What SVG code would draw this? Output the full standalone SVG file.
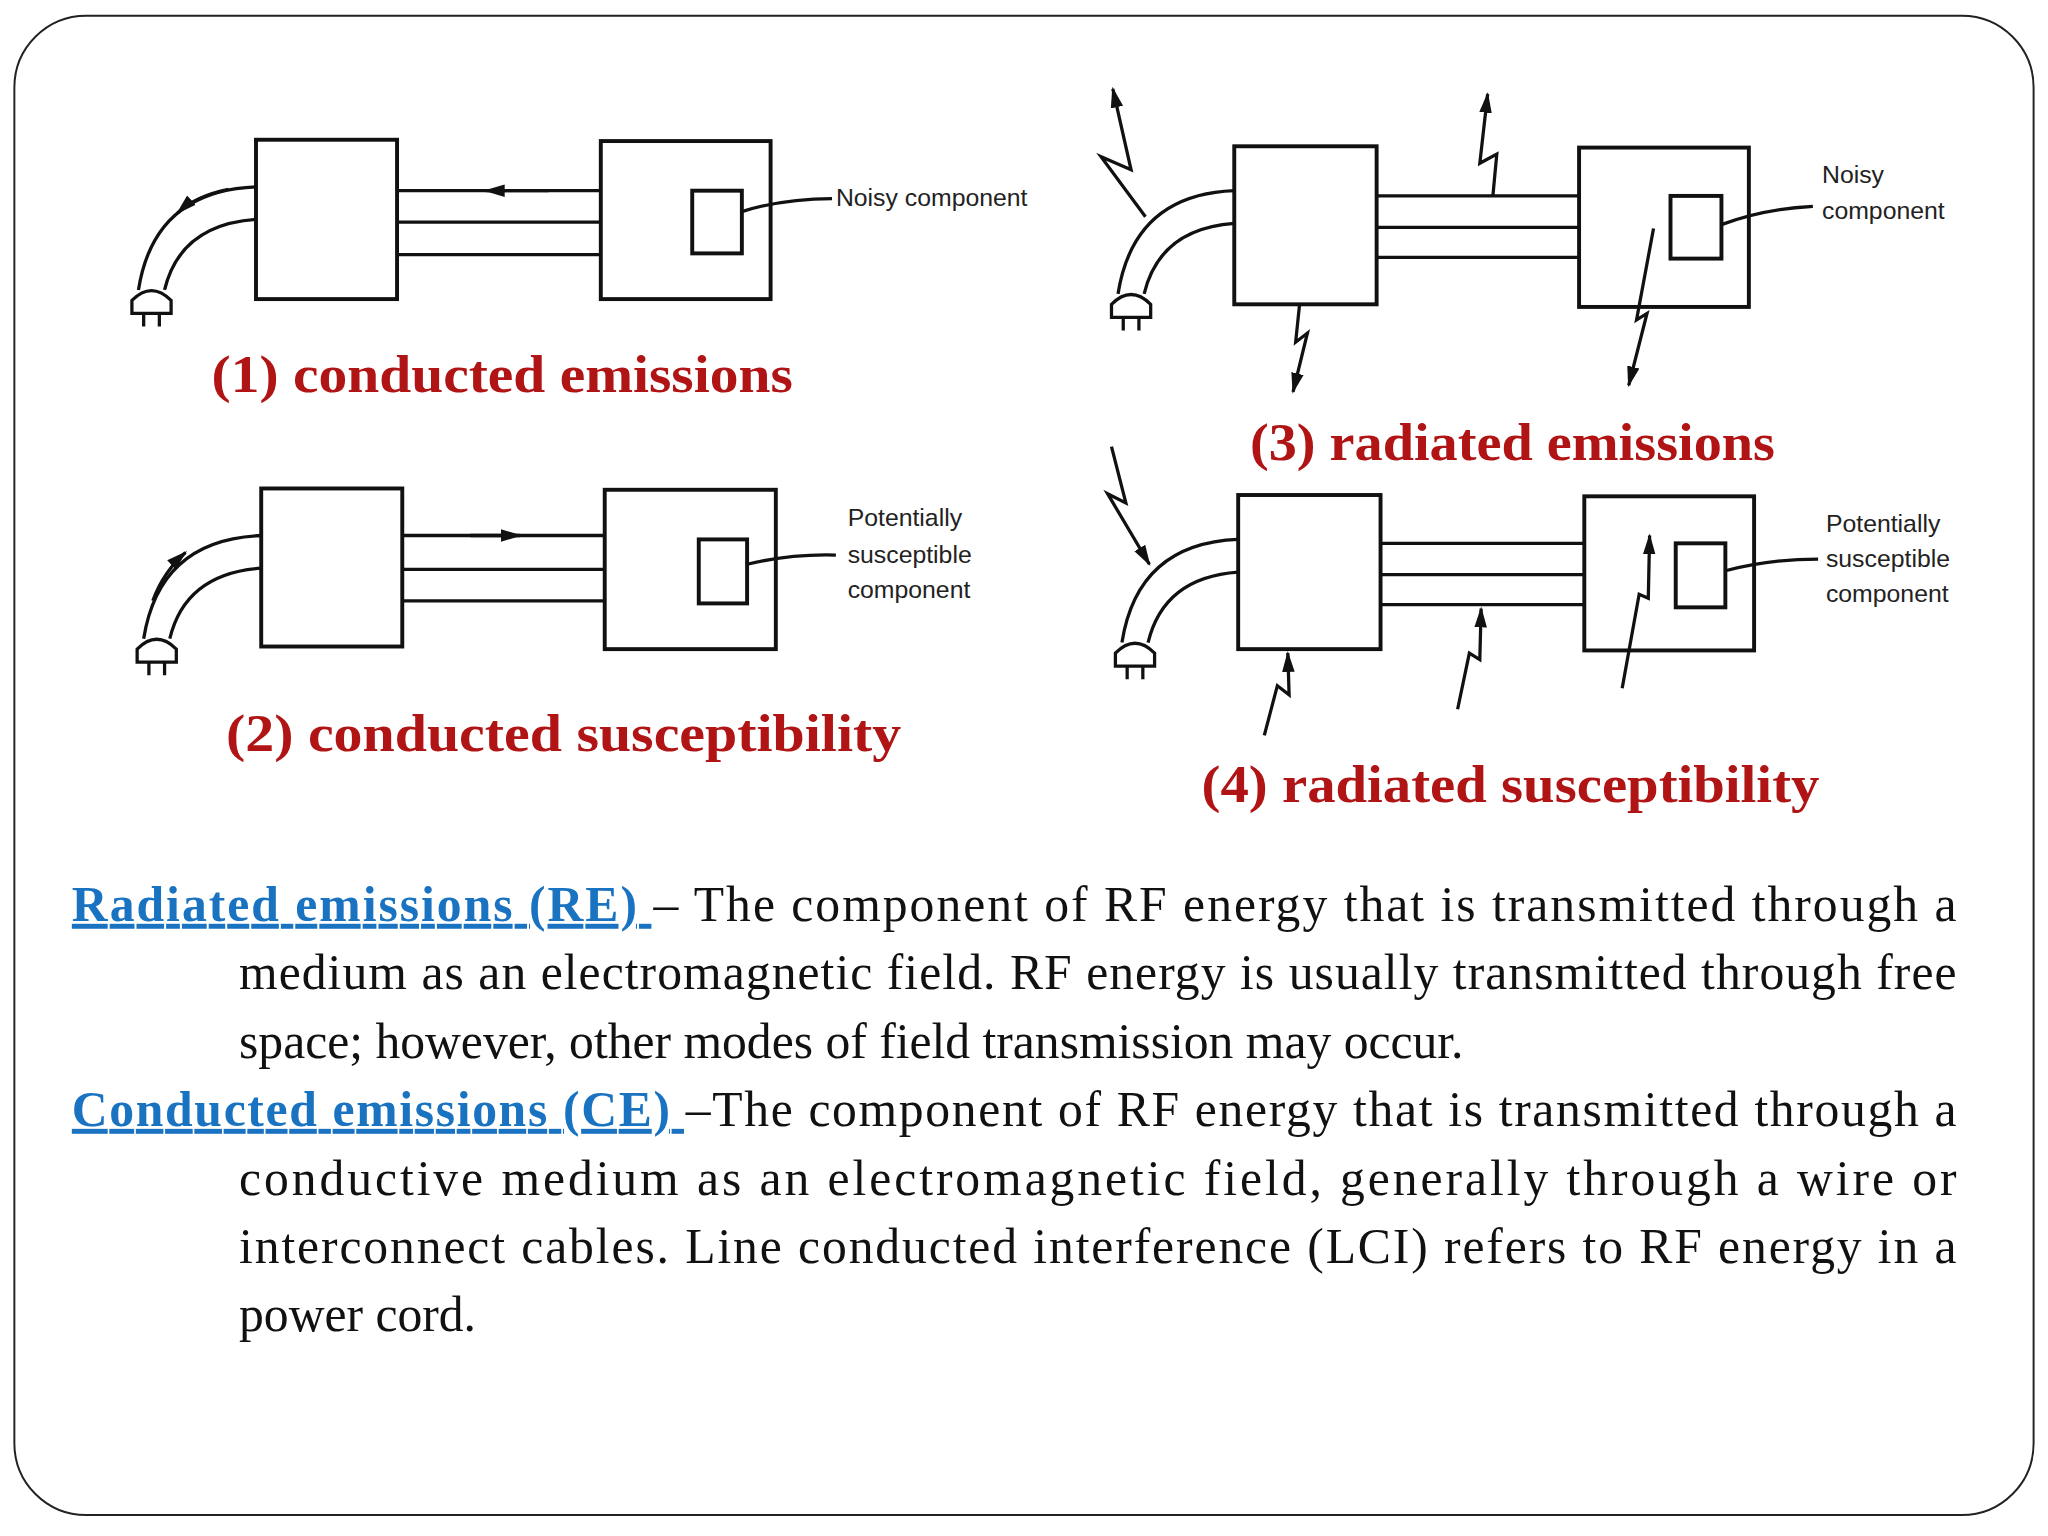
<svg xmlns="http://www.w3.org/2000/svg" width="2048" height="1536" viewBox="0 0 2048 1536">
<defs>
<marker id="ab" viewBox="0 0 10 10" refX="9" refY="5" markerWidth="16" markerHeight="16" orient="auto" markerUnits="userSpaceOnUse"><path d="M0,2 L10,5 L0,8 Z" fill="#111"/></marker>
<style>
.bx{fill:#fff;stroke:#111;stroke-width:3}
.w{fill:none;stroke:#111;stroke-width:2.5}
.bolt{fill:none;stroke:#111;stroke-width:2.5;stroke-linejoin:miter}
.lbl{font-family:"Liberation Sans",Arial,sans-serif;font-size:19px;fill:#222}
.ttl{font-family:"Liberation Serif","Times New Roman",serif;font-weight:bold;font-size:40px;fill:#b01414}
.body{font-family:"Liberation Serif","Times New Roman",serif;font-size:38px;fill:#111}
.lk{fill:#1a73c0;font-weight:bold;text-decoration:underline}
</style>
</defs>
<rect width="2048" height="1536" fill="#fff"/>
<g transform="scale(1.3061)">
<rect x="11" y="12" width="1546" height="1148" rx="55" fill="#fff" stroke="#222" stroke-width="1.5"/>

<g id="panel1">
<path class="w" d="M196,143 Q118,146 106,222"/><path class="w" d="M196,168 Q138,172 126,222"/>
<path class="w" d="M175,145 Q150,150 136,163" marker-end="url(#ab)"/>
<path class="w" d="M101,240 L101,230 Q116,215 131,230 L131,240 Z"/><path class="w" d="M110,240 V250 M122,240 V250"/>
<path class="w" d="M304,146 H460 M304,170 H460 M304,195 H460"/>
<path class="w" d="M420,146 H372" marker-end="url(#ab)"/>
<rect class="bx" x="196" y="107" width="108" height="122"/>
<rect class="bx" x="460" y="108" width="130" height="121"/>
<rect class="bx" x="530" y="146" width="38" height="48"/>
<path class="w" d="M568,162 Q600,152 637,152" stroke-width="1.5"/>
<text class="lbl" x="640" y="158">Noisy component</text>
<text class="ttl" x="162" y="300" textLength="445" lengthAdjust="spacingAndGlyphs">(1) conducted emissions</text>
</g>

<g id="panel2">
<path class="w" d="M200,410 Q122,413 110,489"/><path class="w" d="M200,435 Q142,439 130,489"/>
<path class="w" d="M117,460 Q125,438 142,423" marker-end="url(#ab)"/>
<path class="w" d="M105,507 L105,497 Q120,482 135,497 L135,507 Z"/><path class="w" d="M114,507 V517 M126,507 V517"/>
<path class="w" d="M308,410 H463 M308,436 H463 M308,460 H463"/>
<path class="w" d="M360,410 H398" marker-end="url(#ab)"/>
<rect class="bx" x="200" y="374" width="108" height="121"/>
<rect class="bx" x="463" y="375" width="131" height="122"/>
<rect class="bx" x="535" y="413" width="37" height="49"/>
<path class="w" d="M572,432 Q605,424 640,425" stroke-width="1.5"/>
<text class="lbl" x="649" y="403">Potentially</text>
<text class="lbl" x="649" y="431">susceptible</text>
<text class="lbl" x="649" y="458">component</text>
<text class="ttl" x="173" y="575" textLength="517" lengthAdjust="spacingAndGlyphs">(2) conducted susceptibility</text>
</g>

<g id="panel3">
<path class="w" d="M945,146 Q868,149 856,225"/><path class="w" d="M945,171 Q888,175 876,225"/>
<path class="w" d="M851,243 L851,233 Q866,218 881,233 L881,243 Z"/><path class="w" d="M860,243 V253 M872,243 V253"/>
<path class="w" d="M1054,150 H1209 M1054,174 H1209 M1054,197 H1209"/>
<rect class="bx" x="945" y="112" width="109" height="121"/>
<rect class="bx" x="1209" y="113" width="130" height="122"/>
<rect class="bx" x="1279" y="150" width="39" height="48"/>
<path class="w" d="M1318,172 Q1350,160 1388,158" stroke-width="1.5"/>
<text class="lbl" x="1395" y="140">Noisy</text>
<text class="lbl" x="1395" y="168">component</text>
<path class="bolt" d="M877,166 L843,120 L866,130 L852,68" marker-end="url(#ab)"/>
<path class="bolt" d="M1143,150 L1146,118 L1133,125 L1139,72" marker-end="url(#ab)"/>
<path class="bolt" d="M995,233 L992,262 L1001,255 L990,300" marker-end="url(#ab)"/>
<path class="bolt" d="M1266,175 L1253,245 L1261,240 L1247,295" marker-end="url(#ab)"/>
<text class="ttl" x="957" y="352" textLength="402" lengthAdjust="spacingAndGlyphs">(3) radiated emissions</text>
</g>

<g id="panel4">
<path class="w" d="M948,413 Q871,416 859,492"/><path class="w" d="M948,438 Q891,442 879,492"/>
<path class="w" d="M854,510 L854,500 Q869,485 884,500 L884,510 Z"/><path class="w" d="M863,510 V520 M875,510 V520"/>
<path class="w" d="M1057,416 H1213 M1057,440 H1213 M1057,463 H1213"/>
<rect class="bx" x="948" y="379" width="109" height="118"/>
<rect class="bx" x="1213" y="380" width="130" height="118"/>
<rect class="bx" x="1283" y="416" width="38" height="49"/>
<path class="w" d="M1321,437 Q1355,428 1392,428" stroke-width="1.5"/>
<text class="lbl" x="1398" y="407">Potentially</text>
<text class="lbl" x="1398" y="434">susceptible</text>
<text class="lbl" x="1398" y="461">component</text>
<path class="bolt" d="M851,342 L862,385 L848,378 L880,432" marker-end="url(#ab)"/>
<path class="bolt" d="M968,563 L978,525 L987,532 L986,500" marker-end="url(#ab)"/>
<path class="bolt" d="M1116,543 L1125,500 L1133,505 L1134,466" marker-end="url(#ab)"/>
<path class="bolt" d="M1242,527 L1255,455 L1262,458 L1263,410" marker-end="url(#ab)"/>
<text class="ttl" x="920" y="614" textLength="473" lengthAdjust="spacingAndGlyphs">(4) radiated susceptibility</text>
</g>

<g id="body">
<text class="body" x="55" y="705" textLength="1443" lengthAdjust="spacing"><tspan class="lk">Radiated emissions (RE) </tspan>– The component of RF energy that is transmitted through a</text>
<text class="body" x="183" y="757" textLength="1315" lengthAdjust="spacing">medium as an electromagnetic field. RF energy is usually transmitted through free</text>
<text class="body" x="183" y="810">space; however, other modes of field transmission may occur.</text>
<text class="body" x="55" y="862" textLength="1443" lengthAdjust="spacing"><tspan class="lk">Conducted emissions (CE) </tspan>–The component of RF energy that is transmitted through a</text>
<text class="body" x="183" y="915" textLength="1315" lengthAdjust="spacing">conductive medium as an electromagnetic field, generally through a wire or</text>
<text class="body" x="183" y="967" textLength="1315" lengthAdjust="spacing">interconnect cables. Line conducted interference (LCI) refers to RF energy in a</text>
<text class="body" x="183" y="1019">power cord.</text>
</g>
</g>
</svg>
